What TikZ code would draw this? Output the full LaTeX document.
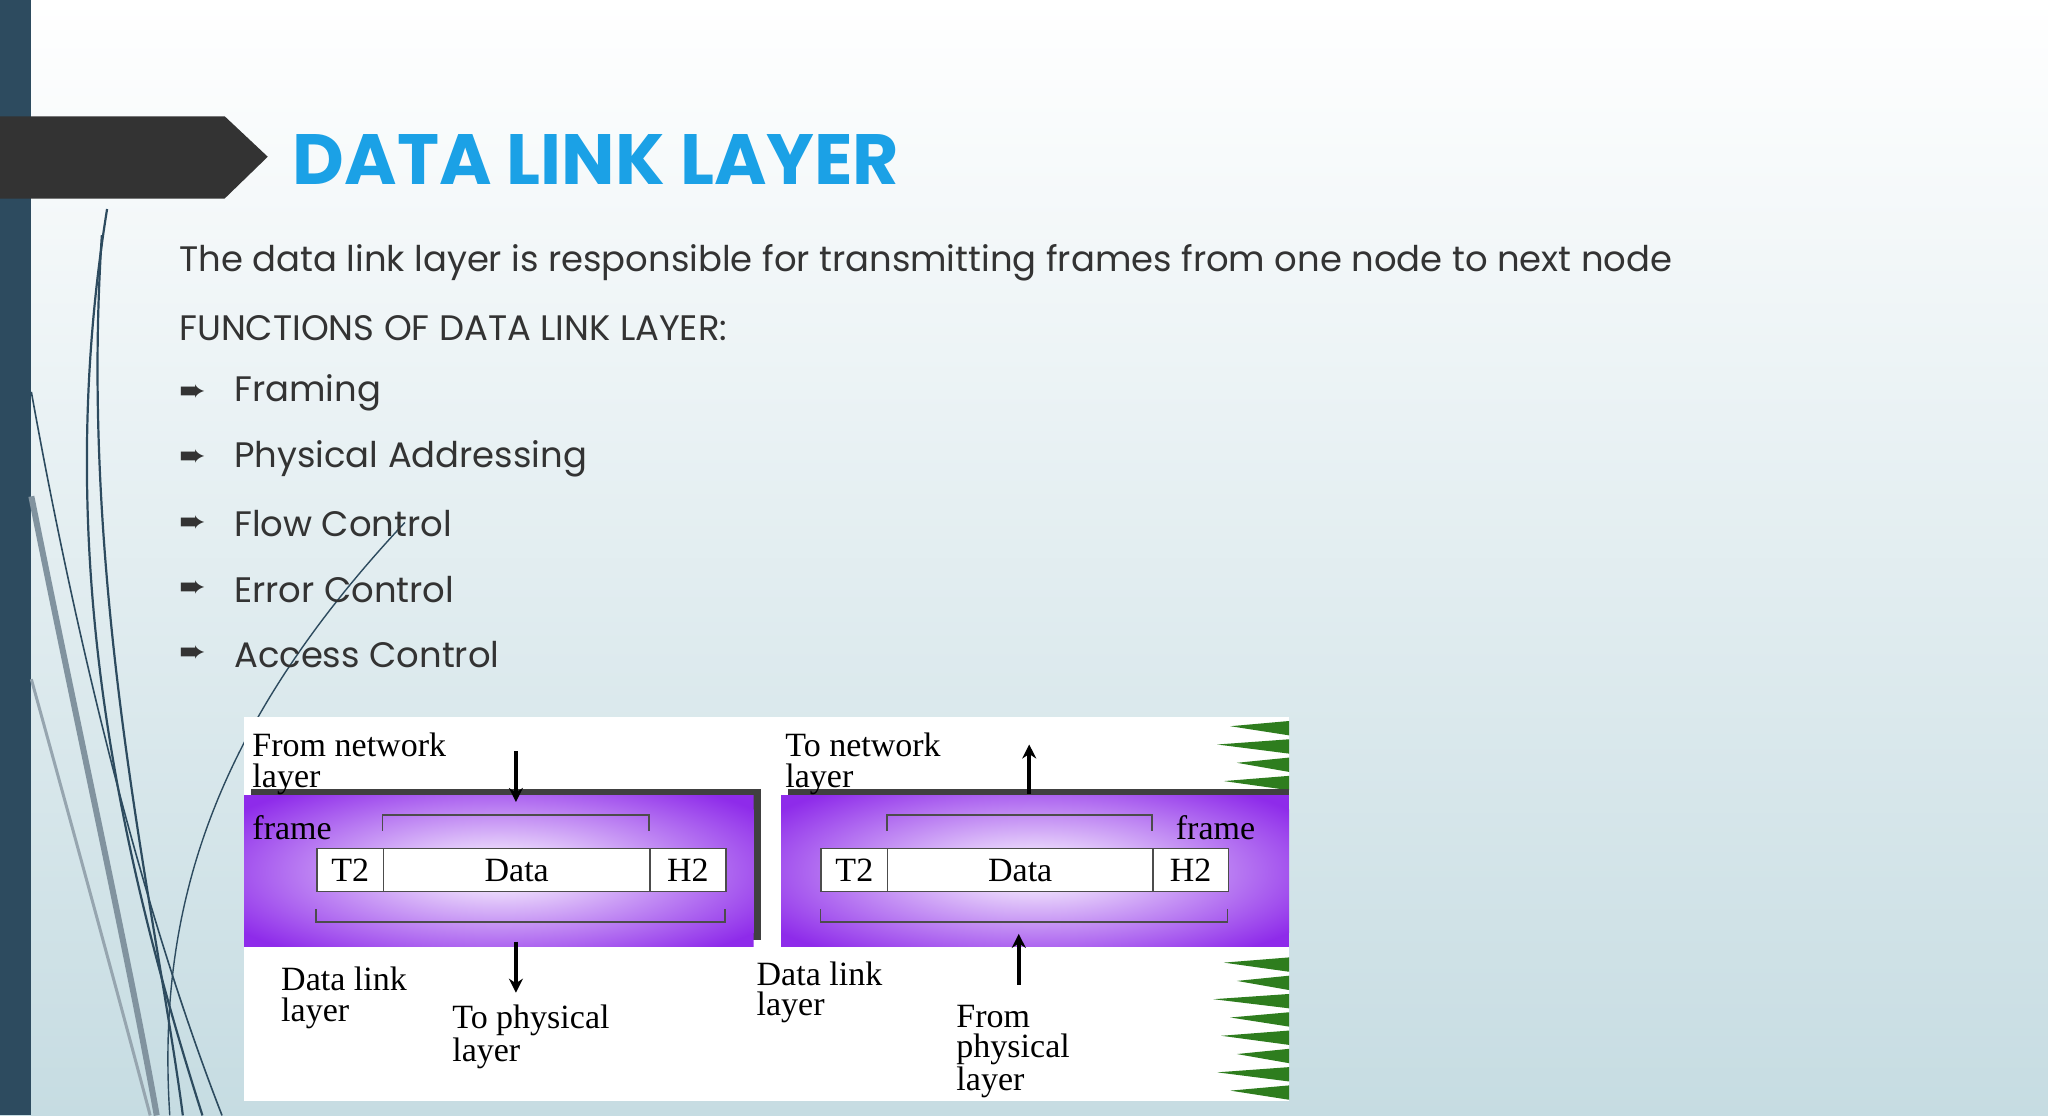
\documentclass[tikz,border=0pt]{standalone}
\usepackage{fontspec}
\setmainfont{Poppins}
\newfontfamily\serifd{Liberation Serif}
\newfontfamily\dejavu{DejaVu Sans}
\definecolor{bar}{HTML}{2D4B5F}
\definecolor{ttl}{HTML}{1BA1E6}
\definecolor{txt}{HTML}{333333}
\definecolor{purp}{HTML}{8E2BEA}
\definecolor{bgb}{HTML}{C6DCE2}
\definecolor{leaf}{HTML}{2E7D1E}
\tikzset{
  body/.style={anchor=west,text=txt,font=\fontsize{17.7}{20}\selectfont,inner sep=0},
  lbl/.style={anchor=north west,font=\serifd\fontsize{17}{15.3}\selectfont,align=left,inner sep=0},
  cell/.style={draw=black!70,fill=white,line width=0.8pt,font=\serifd\fontsize{17}{15}\selectfont},
  brk/.style={draw=black!70,line width=0.7pt},
  arr/.style={-{Stealth[length=7pt,width=7pt]},line width=2.2pt},
  curve/.style={draw=bar,line width=1.1pt}
}
\usetikzlibrary{arrows.meta}
\begin{document}
\begin{tikzpicture}[x=0.653pt,y=-0.653pt]
\useasboundingbox (0,0) rectangle (1568,854);
\shade[top color=white,bottom color=bgb,middle color=white!50!bgb] (0,0) rectangle (1568,854);
\fill[bar] (0,0) rectangle (24,854);
% curves
\draw[curve] (82,160) .. controls (40,420) and (90,650) .. (155,854);
\draw[curve] (78,180) .. controls (60,450) and (120,700) .. (140,854);
\draw[curve,line width=0.8pt] (24,300) .. controls (60,500) and (110,700) .. (170,854);
\draw[curve,draw=bar!60,line width=3pt] (24,380) .. controls (60,560) and (100,740) .. (120,854);
\draw[curve,line width=0.7pt] (310,400) .. controls (160,560) and (120,700) .. (130,854);
\draw[curve,draw=bar!50,line width=1.5pt] (24,520) .. controls (60,650) and (90,760) .. (115,854);
% banner
\fill[black!80] (0,89) -- (172,89) -- (205,120) -- (172,152) -- (0,152) -- cycle;
\node[anchor=base west,inner sep=0,text=ttl,font=\fontsize{35.6}{40}\selectfont\bfseries] (title) at (224,141) {DATA LINK LAYER};
\node[body] (l1) at (137,201) {The data link layer is responsible for transmitting frames from one node to next node};
\node[body] (l2) at (137,251) {FUNCTIONS OF DATA LINK LAYER:};
\foreach \t/\yy [count=\i] in {Framing/301,Physical Addressing/351,Flow Control/401,Error Control/451,Access Control/501}{
  \node[body,font=\dejavu\fontsize{16}{16}\selectfont] (b\i) at (137,\yy) {➨};
  \node[body] (t\i) at (179,\yy) {\t};
}
% diagram
\fill[white] (187,549) rectangle (987,843);
% leaves
\foreach \yy/\ll in {552/45,566/55,580/40,594/50,733/50,747/40,761/58,775/45,789/52,803/40,817/55,831/45}{
  \fill[leaf] (987,\yy) -- (987-\ll,\yy+4) -- (987,\yy+11) -- cycle;
}
% boxes
\fill[black!75] (192,604) rectangle (583,720);
\fill[black!75] (603,604) rectangle (987,720);
\foreach \xa/\xb/\xc/\rx in {187/577/382/242,598/987/792.5/241}{
  \begin{scope}
  \clip (\xa,609) rectangle (\xb,725);
  \fill[purp] (\xa,609) rectangle (\xb,725);
  \shade[inner color=white,outer color=purp] (\xc,667) ellipse [x radius=\rx, y radius=80];
  \end{scope}
}
% left row
\node[cell,minimum width=51*0.653pt,minimum height=33*0.653pt,anchor=north west] (lt) at (242,649) {T2};
\node[cell,minimum width=204*0.653pt,minimum height=33*0.653pt,anchor=north west] (ld) at (293,649) {Data};
\node[cell,minimum width=58*0.653pt,minimum height=33*0.653pt,anchor=north west] (lh) at (497,649) {H2};
\draw[brk] (293,636) -- (293,624) -- (497,624) -- (497,636);
\draw[brk] (242,696) -- (242,706) -- (555,706) -- (555,696);
% right row
\node[cell,minimum width=51*0.653pt,minimum height=33*0.653pt,anchor=north west] (rt) at (628,649) {T2};
\node[cell,minimum width=203*0.653pt,minimum height=33*0.653pt,anchor=north west] (rd) at (679,649) {Data};
\node[cell,minimum width=58*0.653pt,minimum height=33*0.653pt,anchor=north west] (rh) at (882,649) {H2};
\draw[brk] (679,636) -- (679,624) -- (882,624) -- (882,636);
\draw[brk] (628,696) -- (628,706) -- (940,706) -- (940,696);
% labels
\node[lbl] (fnl) at (193,561) {From network\\layer};
\node[lbl] (fr1) at (193,624) {frame};
\node[lbl] (dl1) at (215,740) {Data link\\layer};
\node[lbl] (tpl) at (346,769) {To physical\\layer};
\node[lbl] (tnl) at (601,561) {To network\\layer};
\node[lbl] (fr2) at (900,624) {frame};
\node[lbl] (dl2) at (579,736) {Data link\\layer};
\node[lbl] (fpl) at (732,769) {From\\physical\\layer};
\coordinate (a1) at (395,575); \coordinate (a2) at (395,614);
\coordinate (a3) at (395,721); \coordinate (a4) at (395,760);
\coordinate (a5) at (788,608); \coordinate (a6) at (788,570);
\coordinate (a7) at (780,754); \coordinate (a8) at (780,715);
\draw[arr] (a1) -- (a2);
\draw[arr] (a3) -- (a4);
\draw[arr] (a5) -- (a6);
\draw[arr] (a7) -- (a8);
\end{tikzpicture}
\end{document}
